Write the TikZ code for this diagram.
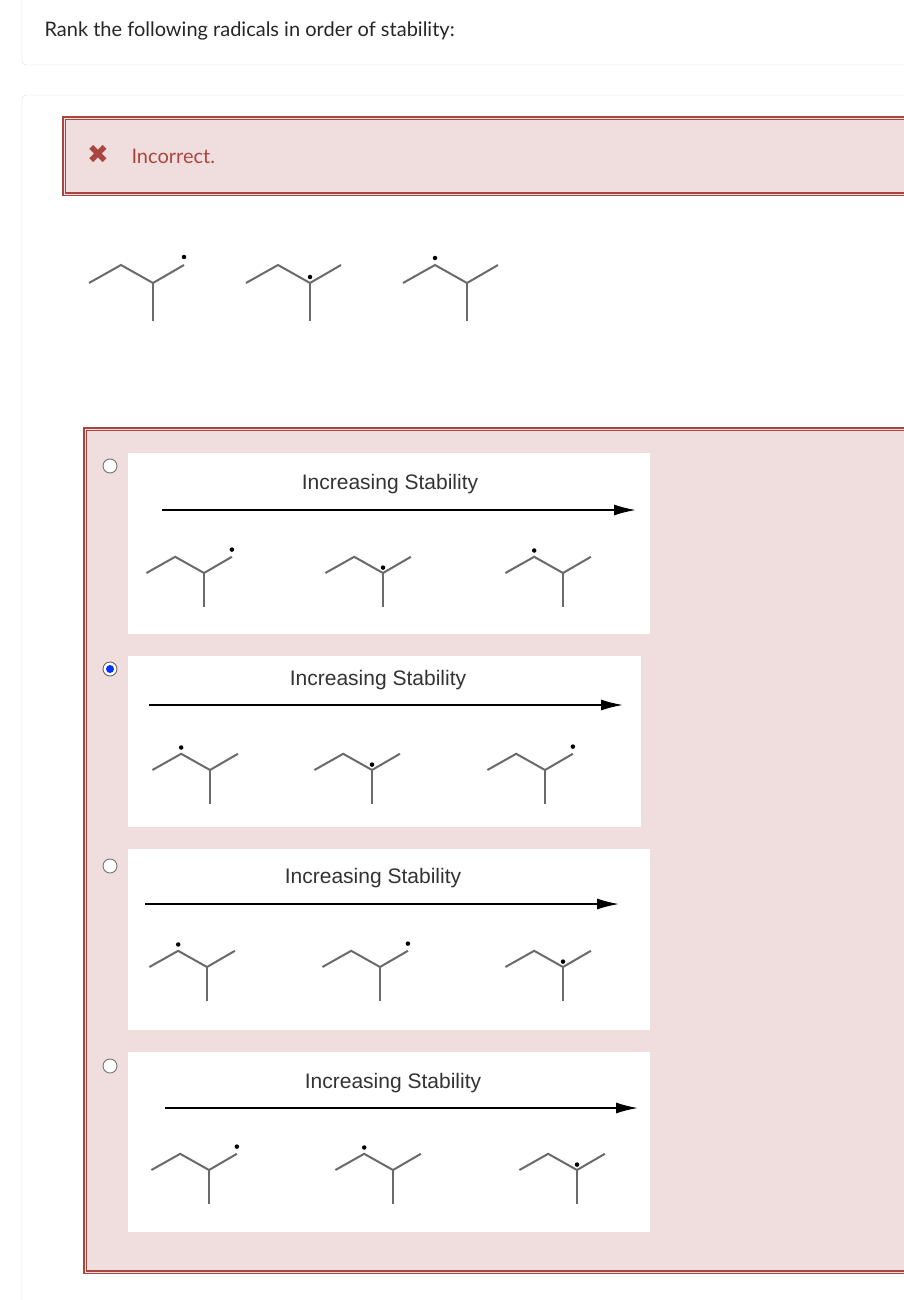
\documentclass[tikz,border=0pt]{standalone}
\usepackage{fontspec}
\setmainfont{Lato}
\newfontfamily\arialf{Liberation Sans}
\newfontfamily\djv{DejaVu Sans}
\usetikzlibrary{arrows.meta}
\definecolor{pinkbg}{HTML}{F0DEDE}
\definecolor{redb}{HTML}{A8463F}
\definecolor{bondc}{HTML}{6A6A6A}
\definecolor{cardb}{HTML}{DDDDDD}
\tikzset{
 bond/.style={draw=bondc,line width=2pt},
 dotr/.style={fill=black,circle,inner sep=0pt,minimum size=4.5pt},
 lbl/.style={font=\arialf\fontsize{21}{24}\selectfont,text=black!80},
 radio/.style={draw=black!55,circle,line width=0.9pt,minimum size=14pt,inner sep=0pt,fill=white},
}
\newcommand{\molec}[4]{%
 \begin{scope}[shift={(#1)},scale=#2]
 \coordinate (#4l) at (-64,0); \coordinate (#4p) at (-32,-18);
 \coordinate (#4c) at (0,0); \coordinate (#4r) at (31,-18); \coordinate (#4d) at (0,38);
 \draw[bond] (#4l) -- (#4p) -- (#4c) -- (#4r); \draw[bond] (#4c) -- (#4d);
 \ifx A#3 \node[dotr] (#4dot) at (31,-26) {};\fi
 \ifx B#3 \node[dotr] (#4dot) at (0,-6) {};\fi
 \ifx C#3 \node[dotr] (#4dot) at (-32,-25) {};\fi
 \end{scope}}
\newcommand{\opt}[9]{%
 \fill[white] (#2,#3) rectangle (#4,#5);
 \node[lbl] at (#6) {Increasing Stability};
 \draw[line width=1.6pt,-{Latex[length=22pt,width=11pt]}] (#7,#9) -- (#8,#9);}
\begin{document}
\begin{tikzpicture}[x=1pt,y=-1pt]
\useasboundingbox (0,0) rectangle (904,1300);
\fill[white] (0,0) rectangle (904,1300);
\draw[cardb,rounded corners=4pt] (22,-10) -- (22,65) -- (910,65);
\node[anchor=west,font=\fontsize{20}{22}\selectfont,text=black!85] (q) at (41,31) {Rank the following radicals in order of stability:};
\draw[cardb,rounded corners=4pt] (22,1310) -- (22,95) -- (910,95);
\draw[redb,line width=3.6pt,fill=pinkbg] (64,118) rectangle (910,194);
\draw[pinkbg,line width=0.9pt] (64,118) rectangle (910,194);
\node[font=\djv\bfseries\fontsize{26}{26}\selectfont,text=redb] (xm) at (98,154) {✖};
\node[anchor=west,font=\fontsize{20}{22}\selectfont,text=redb] (inc) at (128,156) {Incorrect.};
\molec{153,283}{1}{A}{ta}
\molec{310,283}{1}{B}{tb}
\molec{467,283}{1}{C}{tc}
\draw[redb,line width=3.6pt,fill=pinkbg] (85,429) rectangle (910,1272);
\draw[pinkbg,line width=0.9pt] (85,429) rectangle (910,1272);
\opt{466}{128}{453}{650}{634}{390,484}{162}{636}{510}
\opt{669}{128}{656}{641}{827}{378,680}{149}{623}{705}
\opt{866}{128}{849}{650}{1030}{373,878}{145}{619}{904}
\opt{1066}{128}{1052}{650}{1232}{393,1083}{165}{638}{1108}
\node[radio] (r1) at (110,466) {};
\node[radio,draw=black!60] (r2) at (110,669) {};
\node[fill=blue!80!cyan,circle,minimum size=8pt,inner sep=0pt] (r2i) at (110,669) {};
\node[radio] (r3) at (110,866) {};
\node[radio] (r4) at (110,1066) {};
\molec{204,573}{0.9}{A}{a1}\molec{383,573}{0.9}{B}{a2}\molec{563,573}{0.9}{C}{a3}
\molec{210,770}{0.9}{C}{b1}\molec{372,770}{0.9}{B}{b2}\molec{545,770}{0.9}{A}{b3}
\molec{207,967}{0.9}{C}{c1}\molec{380,967}{0.9}{A}{c2}\molec{563,967}{0.9}{B}{c3}
\molec{209,1170}{0.9}{A}{d1}\molec{393,1170}{0.9}{C}{d2}\molec{577,1170}{0.9}{B}{d3}
\end{tikzpicture}
\end{document}
